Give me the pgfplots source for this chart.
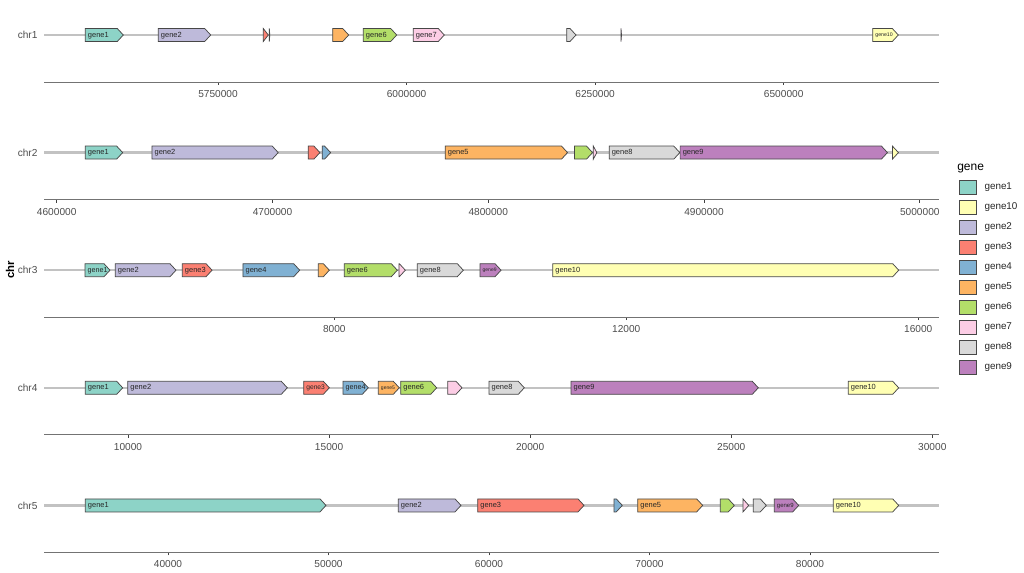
\documentclass[border=0pt]{standalone}
\usepackage{fontspec}
\setmainfont{Liberation Sans}
\usepackage{pgfplots}
\pgfplotsset{compat=1.18}
\definecolor{g1}{HTML}{8DD3C7}
\definecolor{g2}{HTML}{BEBADA}
\definecolor{g3}{HTML}{FB8072}
\definecolor{g4}{HTML}{80B1D3}
\definecolor{g5}{HTML}{FDB462}
\definecolor{g6}{HTML}{B3DE69}
\definecolor{g7}{HTML}{FCCDE5}
\definecolor{g8}{HTML}{D9D9D9}
\definecolor{g9}{HTML}{BC80BD}
\definecolor{g10}{HTML}{FFFFB3}
\definecolor{tickgray}{HTML}{4D4D4D}
\definecolor{trackgray}{HTML}{C2C2C2}

\newcommand\ah{0}
\newcommand\gene[3]{%
 \begingroup\pgfkeys{/pgf/fpu=true,/pgf/fpu/output format=fixed}%
 \pgfmathparse{max(#1,#2-\ah)}\xdef\hs{\pgfmathresult}\endgroup
 \edef\temp{\noexpand\addplot[fill=#3,draw=black!72,line width=0.55pt] coordinates {(#1,-6.5) (\hs,-6.5) (#2,0) (\hs,6.5) (#1,6.5)} -- cycle;}%
 \temp}
\newcommand\glab[3][5.6]{\node[anchor=west,inner sep=0pt,xshift=1.8pt,yshift=-0.2pt,font=\fontsize{#1}{#1}\selectfont,text=black!85] at (axis cs:#2,0) {#3};}

\pgfplotsset{panel/.style={
 scale only axis, width=670.875pt, height=45pt, ymin=-47, ymax=13, clip=false,
 anchor=south west,
 axis x line*=bottom, axis y line*=left,
 x axis line style={-, draw=black!55, line width=0.6pt},
 y axis line style={draw=none},
 ytick={0}, ytick style={draw=none},
 xtick style={draw=black!75, line width=0.5pt},
 tick align=outside, major tick length=2.25pt,
 scaled x ticks=false,
 /pgf/number format/fixed, /pgf/number format/precision=0, /pgf/number format/1000 sep={}, /pgf/number format/assume math mode=true,
 xticklabel style={font=\fontsize{7.6}{9}\selectfont, text=tickgray, inner sep=0pt, yshift=-3.8pt},
 yticklabel style={font=\fontsize{7.6}{9}\selectfont, text=tickgray, inner sep=0pt, xshift=-2.45pt},
}}

\begin{document}
\begin{tikzpicture}
\path[use as bounding box] (0,0) rectangle (768pt,429pt);

% chr1
\begin{axis}[panel, at={(33pt,367.5pt)}, xmin=5519311, xmax=6705239,
  xtick={5750000,6000000,6250000,6500000}, yticklabels={chr1}]
\addplot[trackgray, line width=1.7pt] coordinates {(5519311,0) (6705239,0)};
\renewcommand\ah{7955}
\gene{5574066}{5624447}{g1}
\gene{5670850}{5740322}{g2}
\gene{5810059}{5816688}{g3}
\gene{5818014}{5818700}{g4}
\gene{5902069}{5923282}{g5}
\gene{5942639}{5986920}{g6}
\gene{6008929}{6050029}{g7}
\gene{6212306}{6224636}{g8}
\gene{6284297}{6284960}{g9}
\gene{6618001}{6651942}{g10}
\glab{5574066}{gene1}
\glab{5670850}{gene2}
\glab{5942639}{gene6}
\glab{6008929}{gene7}
\glab[3.9]{6618001}{gene10}
\end{axis}

% chr2
\begin{axis}[panel, at={(33pt,279.3pt)}, xmin=4594116, xmax=5008664,
  xtick={4600000,4700000,4800000,4900000,5000000}, yticklabels={chr2}]
\addplot[trackgray, line width=1.7pt] coordinates {(4594116,0) (5008664,0)};
\renewcommand\ah{2780}
\gene{4613250}{4630578}{g1}
\gene{4644152}{4702667}{g2}
\gene{4716566}{4721987}{g3}
\gene{4723052}{4726944}{g4}
\gene{4780039}{4836746}{g5}
\gene{4839989}{4848329}{g6}
\gene{4848700}{4850321}{g7}
\gene{4856019}{4888775}{g8}
\gene{4888914}{4985002}{g9}
\gene{4987319}{4990099}{g10}
\glab{4613250}{gene1}
\glab{4644152}{gene2}
\glab{4780039}{gene5}
\glab{4856019}{gene8}
\glab{4888914}{gene9}
\end{axis}

% chr3
\begin{axis}[panel, at={(33pt,191.1pt)}, xmin=4023, xmax=16277,
  xtick={8000,12000,16000}, yticklabels={chr3}]
\addplot[trackgray, line width=1.7pt] coordinates {(4023,0) (16277,0)};
\renewcommand\ah{82}
\gene{4585}{4927}{g1}
\gene{5000}{5831}{g2}
\gene{5918}{6325}{g3}
\gene{6749}{7526}{g4}
\gene{7781}{7932}{g5}
\gene{8137}{8863}{g6}
\gene{8886}{8973}{g7}
\gene{9137}{9767}{g8}
\gene{9996}{10284}{g9}
\gene{10992}{15732}{g10}
\glab[5.4]{4585}{gene1}
\glab{5000}{gene2}
\glab{5918}{gene3}
\glab{6749}{gene4}
\glab{8137}{gene6}
\glab{9137}{gene8}
\glab[3.75]{9996}{gene9}
\glab{10992}{gene10}
\end{axis}

% chr4
\begin{axis}[panel, at={(33pt,102.9pt)}, xmin=7911, xmax=30154,
  xtick={10000,15000,20000,25000,30000}, yticklabels={chr4}]
\addplot[trackgray, line width=1.7pt] coordinates {(7911,0) (30154,0)};
\renewcommand\ah{149}
\gene{8938}{9868}{g1}
\gene{9993}{13961}{g2}
\gene{14369}{15006}{g3}
\gene{15346}{15975}{g4}
\gene{16224}{16746}{g5}
\gene{16781}{17676}{g6}
\gene{17950}{18305}{g7}
\gene{18977}{19854}{g8}
\gene{21016}{25673}{g9}
\gene{27911}{29164}{g10}
\glab{8938}{gene1}
\glab{9993}{gene2}
\glab[5]{14369}{gene3}
\glab[5.4]{15346}{gene4}
\glab[3.75]{16224}{gene5}
\glab{16781}{gene6}
\glab{18977}{gene8}
\glab{21016}{gene9}
\glab{27911}{gene10}
\end{axis}

% chr5
\begin{axis}[panel, at={(33pt,14.7pt)}, xmin=32274, xmax=88006,
  xtick={40000,50000,60000,70000,80000}, yticklabels={chr5}]
\addplot[trackgray, line width=1.7pt] coordinates {(32274,0) (88006,0)};
\renewcommand\ah{374}
\gene{34847}{49844}{g1}
\gene{54349}{58255}{g2}
\gene{59296}{65919}{g3}
\gene{67788}{68305}{g4}
\gene{69265}{73314}{g5}
\gene{74411}{75283}{g6}
\gene{75825}{76180}{g7}
\gene{76467}{77277}{g8}
\gene{77776}{79296}{g9}
\gene{81452}{85526}{g10}
\glab{34847}{gene1}
\glab{54349}{gene2}
\glab{59296}{gene3}
\glab{69265}{gene5}
\glab[4.5]{77776}{gene9}
\glab{81452}{gene10}
\end{axis}

% y title
\node[rotate=90, font=\bfseries\fontsize{8.5}{10}\selectfont] at (7.5pt,226.5pt) {chr};

% legend
\node[anchor=west, inner sep=0pt, font=\fontsize{9}{10}\selectfont] at (717.75pt,302.25pt) {gene};
\foreach \c/\t [count=\i from 0] in {g1/gene1,g10/gene10,g2/gene2,g3/gene3,g4/gene4,g5/gene5,g6/gene6,g7/gene7,g8/gene8,g9/gene9} {
  \draw[fill=\c, draw=black!72, line width=0.4pt] (719.5pt,{288.4pt-15pt*\i-5.1pt}) rectangle (732.5pt,{288.4pt-15pt*\i+5.1pt});
  \node[anchor=west, inner sep=0pt, font=\fontsize{7.4}{9}\selectfont, text=black!85] at (738.2pt,{288.4pt-15pt*\i}) {\t};
}
\end{tikzpicture}
\end{document}
